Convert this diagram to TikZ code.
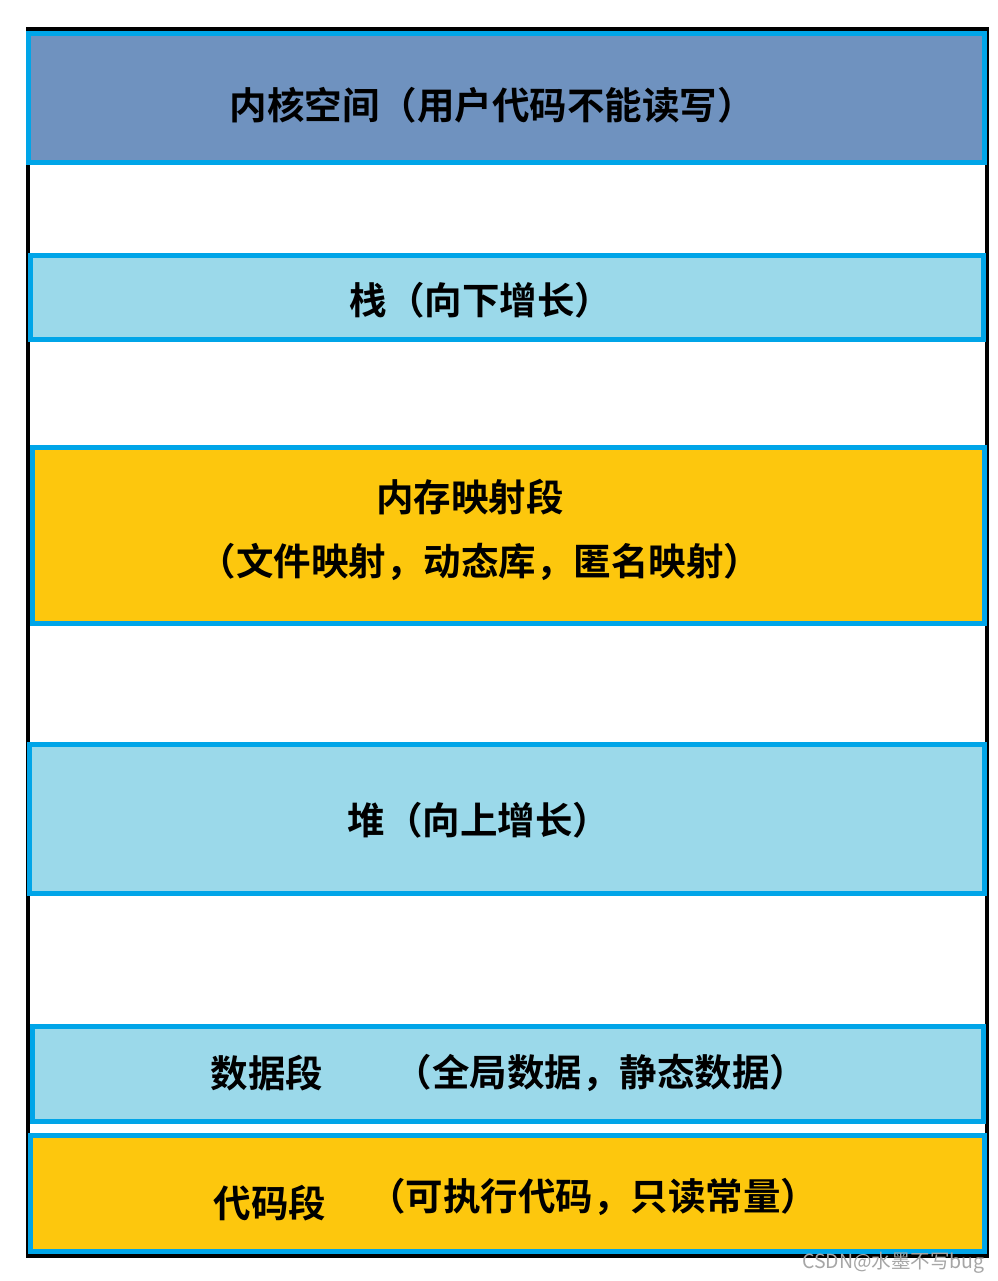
\documentclass[tikz,border=0pt]{standalone}
\usepackage{fontspec}
\newfontfamily\cjkb{Noto Sans CJK SC}[UprightFont=* Bold]
\newfontfamily\cjkr{Noto Sans CJK SC}
\definecolor{edgeblue}{HTML}{00A5E8}
\definecolor{kernelfill}{HTML}{6F92BF}
\definecolor{lightfill}{HTML}{9BD9EA}
\definecolor{yellowfill}{HTML}{FDC70D}
\begin{document}
\begin{tikzpicture}[x=1pt,y=-1pt,
  seg/.style={draw=edgeblue,line width=5pt},
  lbl/.style={font=\cjkb\fontsize{37.5}{45}\selectfont,text=black,inner sep=0pt,anchor=center},
  wmark/.style={font=\cjkr\fontsize{19.5}{22}\selectfont,text=gray!70,inner sep=0pt}]
\useasboundingbox (0,0) rectangle (997,1281);
\fill[white] (0,0) rectangle (997,1281);
% outer frame
\draw[black,line width=4pt] (27.5,29) rectangle (986.5,1256);
% segments
\path[seg,fill=kernelfill] (28.5,33.5) rectangle (984.5,162.5);
\path[seg,fill=lightfill] (30.5,255.5) rectangle (983.5,339.5);
\path[seg,fill=yellowfill] (32.5,447.5) rectangle (984.5,623.5);
\path[seg,fill=lightfill] (29.5,744.5) rectangle (984.5,893.5);
\path[seg,fill=lightfill] (32.5,1026.5) rectangle (983.5,1121.5);
\path[seg,fill=yellowfill] (30.5,1135.5) rectangle (984.5,1251.5);
% labels
\node[lbl] (kernel) at (492,105) {内核空间（用户代码不能读写）};
\node[lbl] (stack) at (481,300) {栈（向下增长）};
\node[lbl] (mmapa) at (470,497) {内存映射段};
\node[lbl] (mmapb) at (480,562) {（文件映射，动态库，匿名映射）};
\node[lbl] (heap) at (479,820) {堆（向上增长）};
\node[lbl] (dataa) at (267,1073) {数据段};
\node[lbl] (datab) at (601,1073) {（全局数据，静态数据）};
\node[lbl] (codea) at (270,1203) {代码段};
\node[lbl] (codeb) at (593,1197) {（可执行代码，只读常量）};
\node[wmark,anchor=east] (wm) at (985,1263) {CSDN@水墨不写bug};
\end{tikzpicture}
\end{document}
